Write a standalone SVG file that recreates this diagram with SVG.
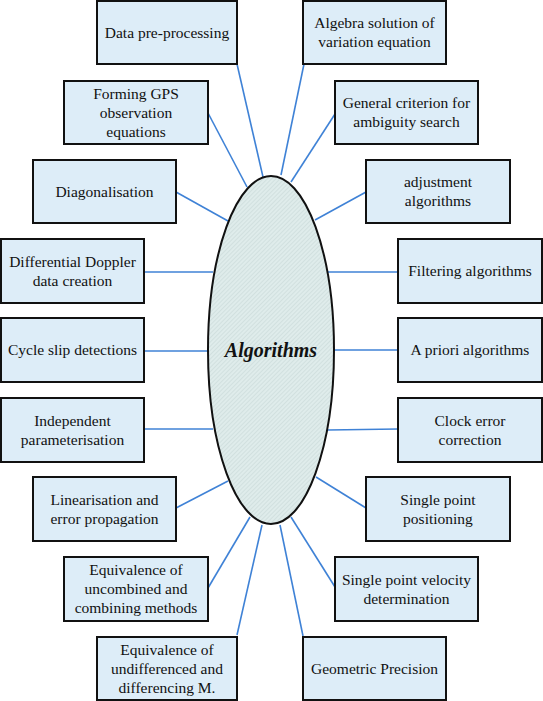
<svg xmlns="http://www.w3.org/2000/svg" width="543" height="701" viewBox="0 0 543 701">
<defs>
<pattern id="hatch" width="3" height="3" patternUnits="userSpaceOnUse" patternTransform="rotate(45)">
<rect width="3" height="3" fill="#dfeceb"/>
<line x1="0" y1="0" x2="0" y2="3" stroke="#c3d4d4" stroke-width="1"/>
</pattern>
<style>
.box{fill:#ddedf8;stroke:#111;stroke-width:2}
.t{font-family:Liberation Serif,Times New Roman,serif;font-size:15.5px;fill:#111;text-anchor:middle}
.c{stroke:#3f82d6;stroke-width:1.6;fill:none}
</style>
</defs>
<rect width="543" height="701" fill="#fff"/>
<g id="connectors">
<line class="c" x1="237" y1="64" x2="263" y2="177"/>
<line class="c" x1="208" y1="113" x2="247" y2="187"/>
<line class="c" x1="176" y1="192" x2="228" y2="221"/>
<line class="c" x1="304" y1="64" x2="281" y2="175"/>
<line class="c" x1="335" y1="114" x2="291" y2="182"/>
<line class="c" x1="366" y1="192" x2="315" y2="220"/>
<line class="c" x1="144" y1="272" x2="213" y2="272"/>
<line class="c" x1="144" y1="351" x2="209" y2="351"/>
<line class="c" x1="144" y1="429" x2="213" y2="429"/>
<line class="c" x1="328" y1="272" x2="398" y2="272"/>
<line class="c" x1="334" y1="350" x2="398" y2="350"/>
<line class="c" x1="328" y1="430" x2="398" y2="429"/>
<line class="c" x1="176" y1="508" x2="228" y2="481"/>
<line class="c" x1="208" y1="588" x2="250" y2="517"/>
<line class="c" x1="237" y1="635" x2="262" y2="525"/>
<line class="c" x1="366" y1="508" x2="316" y2="477"/>
<line class="c" x1="335" y1="587" x2="291" y2="517"/>
<line class="c" x1="303" y1="636" x2="280" y2="525"/>
</g>
<g id="center">
<ellipse cx="271" cy="350" rx="63" ry="174" fill="url(#hatch)" stroke="#111" stroke-width="2"/>
<text x="271" y="357" font-family="Liberation Serif,Times New Roman,serif" font-size="20" font-weight="bold" font-style="italic" text-anchor="middle" fill="#111">Algorithms</text>
</g>
<g font-family="Liberation Serif,Times New Roman,serif">
<g id="n1"><rect class="box" x="97" y="1" width="140" height="63"/><text class="t" x="167" y="38">Data pre-processing</text></g>
<g id="n2"><rect class="box" x="64" y="81" width="144" height="63"/><text class="t" x="136" y="99">Forming GPS</text><text class="t" x="136" y="118">observation</text><text class="t" x="136" y="137">equations</text></g>
<g id="n3"><rect class="box" x="33" y="160" width="143" height="63"/><text class="t" x="104.5" y="197">Diagonalisation</text></g>
<g id="n4"><rect class="box" x="303" y="1" width="143" height="63"/><text class="t" x="374.5" y="28">Algebra solution of</text><text class="t" x="374.5" y="47">variation equation</text></g>
<g id="n5"><rect class="box" x="335" y="81" width="143" height="63"/><text class="t" x="406.5" y="108">General criterion for</text><text class="t" x="406.5" y="127">ambiguity search</text></g>
<g id="n6"><rect class="box" x="366" y="160" width="144" height="63"/><text class="t" x="438" y="187">adjustment</text><text class="t" x="438" y="206">algorithms</text></g>
<g id="n7"><rect class="box" x="1" y="239" width="143" height="64"/><text class="t" x="72.5" y="267">Differential Doppler</text><text class="t" x="72.5" y="286">data creation</text></g>
<g id="n8"><rect class="box" x="1" y="318" width="143" height="64"/><text class="t" x="72.5" y="355">Cycle slip detections</text></g>
<g id="n9"><rect class="box" x="1" y="398" width="143" height="64"/><text class="t" x="72.5" y="426">Independent</text><text class="t" x="72.5" y="445">parameterisation</text></g>
<g id="n10"><rect class="box" x="398" y="239" width="144" height="64"/><text class="t" x="470" y="276">Filtering algorithms</text></g>
<g id="n11"><rect class="box" x="398" y="318" width="144" height="64"/><text class="t" x="470" y="355">A priori algorithms</text></g>
<g id="n12"><rect class="box" x="398" y="398" width="144" height="64"/><text class="t" x="470" y="426">Clock error</text><text class="t" x="470" y="445">correction</text></g>
<g id="n13"><rect class="box" x="33" y="477" width="143" height="64"/><text class="t" x="104.5" y="505">Linearisation and</text><text class="t" x="104.5" y="524">error propagation</text></g>
<g id="n14"><rect class="box" x="64" y="557" width="144" height="64"/><text class="t" x="136" y="575">Equivalence of</text><text class="t" x="136" y="594">uncombined and</text><text class="t" x="136" y="613">combining methods</text></g>
<g id="n15"><rect class="box" x="97" y="637" width="140" height="63"/><text class="t" x="167" y="655">Equivalence  of</text><text class="t" x="167" y="674">undifferenced and</text><text class="t" x="167" y="693">differencing M.</text></g>
<g id="n16"><rect class="box" x="366" y="477" width="144" height="64"/><text class="t" x="438" y="505">Single point</text><text class="t" x="438" y="524">positioning</text></g>
<g id="n17"><rect class="box" x="335" y="557" width="143" height="64"/><text class="t" x="406.5" y="585">Single point velocity</text><text class="t" x="406.5" y="604">determination</text></g>
<g id="n18"><rect class="box" x="303" y="637" width="143" height="63"/><text class="t" x="374.5" y="674">Geometric Precision</text></g>
</g>
</svg>
